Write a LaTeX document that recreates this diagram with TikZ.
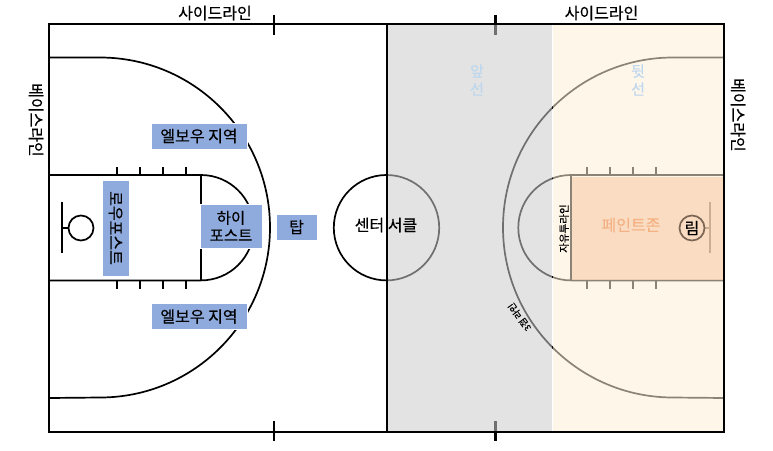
\documentclass[tikz,border=0pt]{standalone}
\usepackage{fontspec}
\setmainfont{Noto Sans CJK KR}
\newfontface\krmed{Noto Sans CJK KR}[FakeBold=0.25]
\definecolor{lbox}{HTML}{8FAADC}
\definecolor{greyov}{HTML}{CCCCCC}
\definecolor{creamov}{HTML}{FFF0D9}
\definecolor{paintov}{HTML}{F8CBA8}
\definecolor{zonetxt}{HTML}{F4B183}
\definecolor{paletxt}{HTML}{BDD7EE}
\tikzset{x=1pt,y=-1pt,
  courtline/.style={draw=black,line width=1.7pt},
  border/.style={draw=black,line width=2pt},
  tag/.style={fill=lbox,draw=white,line width=0.3pt,text=black,font=\krmed\fontsize{16}{18}\selectfont,inner sep=0pt,align=center,anchor=center},
  lab/.style={text=black,font=\krmed\fontsize{16}{18}\selectfont,inner sep=0pt,anchor=center},
  pale/.style={text=paletxt,font=\krmed\fontsize{15}{18}\selectfont,inner sep=0pt,align=center},
}
\begin{document}
\begin{tikzpicture}
\useasboundingbox (0,0) rectangle (773,450);
\fill[white] (0,0) rectangle (773,450);
% court markings, later veiled by the coloured zones
\draw[courtline] (49,57.5) -- (100,57.5) arc[start angle=-90,end angle=90,radius=170] -- (49,398);
\draw[courtline] (724,57.5) -- (673,57.5) arc[start angle=270,end angle=90,radius=170] -- (724,398);
\draw[courtline] (49,175) -- (201,175) arc[start angle=-90,end angle=90,radius=52.7] -- (49,280.4);
\draw[courtline] (201,175) -- (201,280.4);
\draw[courtline] (724,175) -- (571,175) arc[start angle=270,end angle=90,radius=52.7] -- (724,280.4);
\draw[courtline] (571,175) -- (571,280.4);
\draw[courtline] (386.5,227.7) circle[radius=52.7];
% sideline marks
\foreach \x in {274,495.5}{
  \draw[line width=2.6pt] (\x,15) -- (\x,35);
  \draw[line width=2.6pt] (\x,421) -- (\x,441);
}
% lane marks
\foreach \x/\w in {117/2.4pt,140/1.5pt,163/1.5pt,186/1.5pt,587/1.5pt,610/1.5pt,633/1.5pt,656/2.4pt}{
  \draw[line width=\w] (\x,167) -- (\x,175);
  \draw[line width=\w] (\x,280.4) -- (\x,289);
}
% backboards and rims
\draw[courtline] (62,202) -- (62,253);
\draw[courtline] (62,228) -- (68,228);
\node[draw=black,line width=1.7pt,circle,minimum size=25pt,inner sep=0pt] (rimL) at (81,228) {};
\draw[courtline] (710,202) -- (710,253);
\draw[courtline] (710,228) -- (705,228);
% zones
\fill[greyov,opacity=.55] (387,24.5) rectangle (551.6,431);
\fill[creamov,opacity=.55] (552.6,24.5) rectangle (724,431);
\fill[paintov,opacity=.6] (572,177) rectangle (723.5,279.5);
% rim over the paint
\node[draw=black!50!paintov,line width=1.7pt,circle,minimum size=25pt,inner sep=0pt,font=\krmed\fontsize{16}{16}\selectfont,text=black] (rimR) at (692,228) {림};
% border and half line
\draw[border] (49,24) rectangle (724,431.5);
\draw[border] (386.5,24) -- (386.5,431.5);
% side labels
\node[lab] (sideL) at (215,13) {사이드라인};
\node[lab] (sideR) at (601.5,13) {사이드라인};
\node[lab,rotate=-90] (baseL) at (36,120) {베이스라인};
\node[lab,rotate=-90] (baseR) at (738,115) {베이스라인};
% position tags
\node[tag,minimum width=96pt,minimum height=26pt] (elbowT) at (199,136) {엘보우 지역};
\node[tag,minimum width=96pt,minimum height=26pt] (elbowB) at (199,316.5) {엘보우 지역};
\node[tag,minimum width=27pt,minimum height=96pt] (lowP) at (115.5,228) {\rotatebox{-90}{로우포스트}};
\node[tag,minimum width=62pt,minimum height=44pt,font=\krmed\fontsize{15.5}{17.5}\selectfont] (highP) at (231,226) {하이\\포스트};
\node[tag,minimum width=41pt,minimum height=26pt] (topP) at (296.5,227) {탑};
% zone labels
\node[lab] (centre) at (386,225) {센터 서클};
\node[pale] (front) at (477,80) {앞\\선};
\node[pale] (back) at (638,80) {뒷\\선};
\node[text=zonetxt,font=\krmed\fontsize{16}{18}\selectfont,inner sep=0pt] (paint) at (631,225) {페인트존};
\node[lab,font=\krmed\fontsize{10.5}{12}\selectfont,rotate=90] (ftline) at (564,228.5) {자유투라인};
\node[lab,font=\krmed\fontsize{9}{11}\selectfont,rotate=126] (three) at (519.5,317) {3점 라인};
\end{tikzpicture}
\end{document}
